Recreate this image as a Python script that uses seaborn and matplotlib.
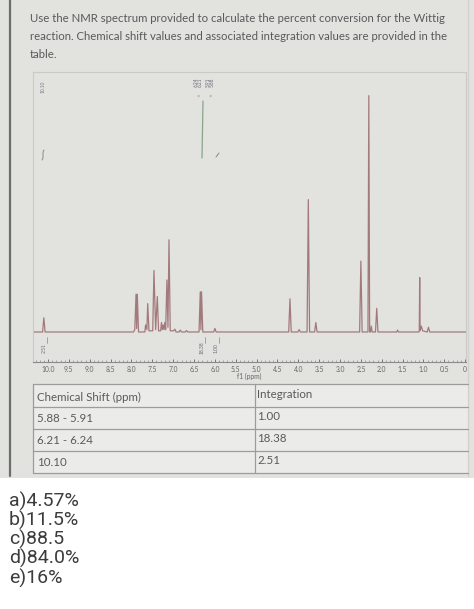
import matplotlib
matplotlib.use('Agg')
import matplotlib.pyplot as plt
import seaborn as sns
import pandas as pd
from matplotlib.patches import Rectangle

# spectrum trace (ppm, relative intensity, baseline = 0)
ppm = [-0.05, 0.85, 0.88, 0.91, 1.02, 1.05, 1.08, 1.09, 1.10, 1.11, 1.14, 1.60, 1.62, 1.64,
       2.09, 2.12, 2.15, 2.23, 2.25, 2.27, 2.29, 2.31, 2.33, 2.47, 2.50, 2.53,
       3.55, 3.58, 3.61, 3.73, 3.76, 3.79, 3.95, 3.98, 4.01, 4.17, 4.20, 4.23,
       5.97, 6.00, 6.03, 6.29, 6.32, 6.335, 6.35, 6.38,
       6.65, 6.68, 6.71, 6.80, 6.83, 6.86, 6.93, 6.96, 6.99,
       7.07, 7.10, 7.125, 7.15, 7.18, 7.20, 7.22, 7.24, 7.26, 7.28, 7.30,
       7.35, 7.38, 7.42, 7.46, 7.49, 7.58, 7.61, 7.63, 7.66, 7.68,
       7.83, 7.86, 7.875, 7.89, 7.92, 7.95, 10.07, 10.10, 10.13, 10.40]
intensity = [0.0, 0.0, 2.0, 0.0, 0.5, 2.5, 0.5, 23.0, 0.5, 0.0, 0.0, 0.0, 0.8, 0.0,
             0.0, 10.0, 0.0, 0.0, 2.5, 0.0, 0.0, 100.0, 0.0, 0.0, 30.0, 0.0,
             0.0, 4.0, 0.0, 0.0, 56.0, 0.0, 0.0, 1.0, 0.0, 0.0, 14.0, 0.0,
             0.0, 1.5, 0.0, 0.0, 17.0, 1.0, 17.0, 0.0,
             0.0, 0.6, 0.0, 0.0, 0.8, 0.0, 0.0, 1.2, 0.5,
             0.5, 39.0, 2.0, 22.0, 1.0, 4.0, 1.0, 3.0, 1.0, 4.0, 0.5,
             0.5, 15.0, 1.0, 26.0, 0.5, 0.5, 12.0, 1.0, 3.0, 0.0,
             0.0, 16.0, 1.5, 16.0, 1.0, 0.0, 0.0, 6.0, 0.0, 0.0]

tick_ppm = [10.0, 9.5, 9.0, 8.5, 8.0, 7.5, 7.0, 6.5, 6.0, 5.5, 5.0, 4.5, 4.0, 3.5,
            3.0, 2.5, 2.0, 1.5, 1.0, 0.5, 0.0]
tick_labels = ['10.0', '9.5', '9.0', '8.5', '8.0', '7.5', '7.0', '6.5', '6.0', '5.5', '5.0',
               '4.5', '4.0', '3.5', '3.0', '2.5', '2.0', '1.5', '1.0', '0.5', '0']

question = ["Use the NMR spectrum provided to calculate the percent conversion for the Wittig",
            "reaction. Chemical shift values and associated integration values are provided in the",
            "table."]
table_header = ["Chemical Shift (ppm)", "Integration"]
shifts = ["5.88 - 5.91", "6.21 - 6.24", "10.10"]
integrations = ["1.00", "18.38", "2.51"]
answers = ["a)4.57%", "b)11.5%", "c)88.5", "d)84.0%", "e)16%"]

W, H = 474, 609
sns.set_theme(style='white')
plt.rcParams['font.family'] = ['Lato', 'DejaVu Sans']

fig = plt.figure(figsize=(W / 100, H / 100), dpi=100)
fig.patch.set_facecolor('white')

# background (photographed screen)
bg = fig.add_axes([0, 0, 1, 1], zorder=-10)
bg.set_xlim(0, W)
bg.set_ylim(H, 0)
bg.axis('off')
bg.add_patch(Rectangle((0, 0), W, 478, color='#e2e2df', lw=0))
bg.add_patch(Rectangle((33, 384), 435, 89, color='#ebebe9', lw=0))
bg.plot([10.5, 10.5], [0, 476], color='#6a706a', lw=1.6)
bg.plot([468, 468], [0, 476], color='#d2d2cf', lw=1)


def fx(px):
    return px / W


def fy(py):
    return 1 - py / H


# spectrum
ax = fig.add_axes([fx(33), fy(362), fx(466) - fx(33), fy(72) - fy(362)], zorder=-5)
ax.set_facecolor('none')
df = pd.DataFrame({'ppm': ppm, 'intensity': intensity})
sns.lineplot(data=df, x='ppm', y='intensity', ax=ax, color='#a37a7c', lw=0.9,
             estimator=None, sort=True)
ax.set_xlim(10.36, -0.02)
ax.set_ylim(-12.7, 110)
ax.set_xticks(tick_ppm)
ax.set_xticklabels(tick_labels)
ax.set_xticks([t / 10 for t in range(0, 104)], minor=True)
ax.tick_params(axis='x', which='major', direction='in', length=2.5, width=0.6,
               colors='#666666', labelsize=4.9, pad=3, bottom=True)
ax.tick_params(axis='x', which='minor', direction='in', length=1.5, width=0.5,
               colors='#8a8a8a', bottom=True)
ax.set_yticks([])
ax.set_xlabel('f1 (ppm)', fontsize=4.8, color='#666666', labelpad=0)
ax.set_ylabel('')
for side in ['left', 'top', 'right']:
    ax.spines[side].set_color('#cacac7')
    ax.spines[side].set_linewidth(0.8)
ax.spines['bottom'].set_color('#8a8a8a')
ax.spines['bottom'].set_linewidth(0.8)

# overlay for text and table, pixel coordinates
ov = fig.add_axes([0, 0, 1, 1], zorder=10)
ov.set_xlim(0, W)
ov.set_ylim(H, 0)
ov.axis('off')
ov.patch.set_alpha(0)

for i, line in enumerate(question):
    ov.text(30, 18 + i * 18.5, line, fontsize=8.2, color='#5a5a5a', va='center', ha='left')

# peak labels at top of the spectrum
ov.text(43, 87, '10.10', rotation=90, fontsize=3.4, color='#7a7a8a', ha='center', va='center')
for xp, lab in zip([196, 200.5, 208, 212.5], ['6.24', '6.21', '5.91', '5.88']):
    ov.text(xp, 82, lab, rotation=90, fontsize=3.4, color='#6a6a7a', ha='center', va='center')
ov.text(198, 96, '<', fontsize=4, color='#7a7a8a', ha='center', va='center')
ov.text(210, 96, '<', fontsize=4, color='#7a7a8a', ha='center', va='center')
ov.plot([203, 202], [101, 158], color='#8aa58a', lw=0.9)
ov.plot([216, 219], [157, 153], color='#8a8a8a', lw=0.7)
ov.plot([42, 43, 43, 44], [160, 158, 152, 150], color='#8a8a8a', lw=0.7)

# integration labels below the baseline
for xp, lab in zip([44, 202, 216], [integrations[2], integrations[1], integrations[0]]):
    ov.text(xp, 348, lab, rotation=90, fontsize=3.6, color='#6a6a7a', ha='center', va='center')
    ov.plot([xp + 3, xp + 3], [337, 343], color='#8a8a8a', lw=0.5)

# table
tc = '#9c9c9a'
rows_y = [384, 407, 429, 451, 473]
for y in rows_y:
    ov.plot([33, 468], [y, y], color=tc, lw=0.9)
ov.plot([33, 33], [384, 473], color=tc, lw=0.9)
ov.plot([255, 255], [384, 473], color=tc, lw=0.9)
ov.text(37, 397, table_header[0], fontsize=8.3, color='#5a5a5a', va='center')
ov.text(257, 395, table_header[1], fontsize=8.3, color='#5a5a5a', va='center')
for i, (s, v) in enumerate(zip(shifts, integrations)):
    yc = (rows_y[i + 1] + rows_y[i + 2]) / 2
    ov.text(37, yc + 1, s, fontsize=8.3, color='#5a5a5a', va='center')
    ov.text(257, yc - 1, v, fontsize=8.3, color='#5a5a5a', va='center')

# answer choices
for i, a in enumerate(answers):
    ov.text(9, 501 + i * 19.3, a, fontsize=14, color='#3c3c3c', va='center',
            family=['Roboto', 'DejaVu Sans'])

fig.savefig('out.png', dpi=100)
